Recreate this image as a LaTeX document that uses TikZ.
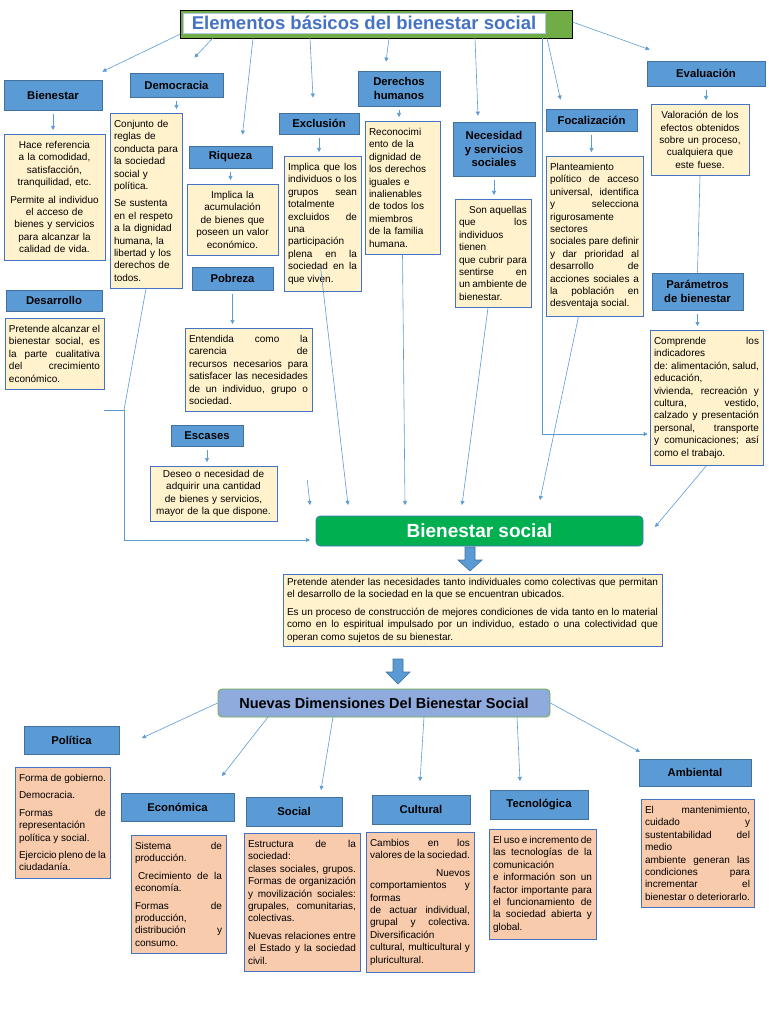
\documentclass[tikz,border=0pt]{standalone}
\usepackage{fontspec}
\setmainfont{Liberation Sans}
\usetikzlibrary{positioning, calc, arrows.meta}

\definecolor{azul}{HTML}{5B9BD5}
\definecolor{azulborde}{HTML}{41719C}
\definecolor{crema}{HTML}{FFF2CC}
\definecolor{cremaborde}{HTML}{4472C4}
\definecolor{salmon}{HTML}{F8CBAD}
\definecolor{verde}{HTML}{00B050}
\definecolor{verdetit}{HTML}{70AD47}
\definecolor{lila}{HTML}{8FAADC}
\definecolor{flecha}{HTML}{5B9BD5}

\begin{document}
\begin{tikzpicture}[x=1pt, y=-1pt,
    cabeza/.style={draw=azulborde, line width=0.8pt, fill=azul, font=\fontsize{11.3}{13.5}\selectfont\bfseries, align=center, inner sep=1pt},
    texto/.style={draw=cremaborde, line width=0.6pt, fill=crema, anchor=north, font=\fontsize{10}{12.4}\selectfont, inner xsep=4pt, inner ysep=7pt,
        execute at begin node={\setlength{\parskip}{5pt}\tolerance=10000\hyphenpenalty=10000\hbadness=10000}},
    dimtexto/.style={texto, fill=salmon},
    enlace/.style={draw=flecha, line width=0.6pt, -{Triangle[width=4pt,length=4pt]}},
    linea/.style={draw=flecha, line width=0.6pt},
    bloque/.style={fill=azul, draw=azulborde, line width=0.6pt}]
    \useasboundingbox (0,0) rectangle (768,1024);

    % Title
    \node (titulo) [draw=black, line width=0.8pt, fill=verdetit, minimum width=392pt, minimum height=28pt] at (376,24) {};
    \node (tit) [fill=white, draw=cremaborde!40, minimum width=362pt, minimum height=20pt, inner sep=0pt, text=cremaborde, font=\fontsize{18.5}{20}\selectfont\bfseries] at (364,23) {Elementos básicos del bienestar social};

    % Heads, upper part
    \node (bien) [cabeza, minimum width=98pt, minimum height=30pt] at (53,95) {Bienestar};
    \node (dem) [cabeza, minimum width=93pt, minimum height=24pt] at (176.5,85) {Democracia};
    \node (riq) [cabeza, minimum width=83pt, minimum height=22pt] at (230.5,157) {Riqueza};
    \node (exc) [cabeza, minimum width=80pt, minimum height=21pt] at (319,123.5) {Exclusión};
    \node (der) [cabeza, minimum width=82pt, minimum height=35pt] at (399,88.5) {Derechos\\humanos};
    \node (nec) [cabeza, minimum width=82pt, minimum height=54pt] at (494,149) {Necesidad\\y servicios\\sociales};
    \node (foc) [cabeza, minimum width=91pt, minimum height=22pt] at (591.5,120) {Focalización};
    \node (eva) [cabeza, minimum width=118pt, minimum height=25pt] at (706,73.5) {Evaluación};
    \node (par) [cabeza, minimum width=91pt, minimum height=37pt] at (697.5,291.5) {Parámetros\\de bienestar};
    \node (desa) [cabeza, minimum width=96pt, minimum height=21pt] at (54,300.5) {Desarrollo};
    \node (pob) [cabeza, minimum width=81pt, minimum height=23pt] at (232.5,278.5) {Pobreza};
    \node (esc) [cabeza, minimum width=72pt, minimum height=21pt] at (207,435.5) {Escases};

    % Texts, upper part
    \node (bientxt) [texto, text width=93pt, align=center] at (54.5,134)
        {Hace referencia a la comodidad, satisfacción, tranquilidad, etc.\par Permite al individuo el acceso de bienes y servicios para alcanzar la calidad de vida.};
    \node (demtxt) [texto, text width=64pt, align=left] at (146,113)
        {Conjunto de reglas de conducta para la sociedad social y política.\par Se sustenta en el respeto a la dignidad humana, la libertad y los derechos de todos.};
    \node (riqtxt) [texto, text width=83pt, align=center] at (232.5,184)
        {Implica la acumulación de bienes que poseen un valor económico.};
    \node (exctxt) [texto, text width=69pt, align=justify] at (322.5,156)
        {Implica que los individuos o los grupos sean totalmente excluidos de una participación plena en la sociedad en la que viven.};
    \node (dertxt) [texto, text width=67pt, align=left] at (402.5,121)
        {Reconocimi ento de la dignidad de los derechos iguales e inalienables de todos los miembros de la familia humana.};
    \node (nectxt) [texto, text width=68pt, align=justify] at (493,199)
        {\hfill Son aquellas que los individuos tienen que cubrir para sentirse en un ambiente de bienestar.};
    \node (foctxt) [texto, text width=89pt, align=justify] at (594.5,156)
        {Planteamiento político de acceso universal, identifica y selecciona rigurosamente sectores sociales pare definir y dar prioridad al desarrollo de acciones sociales a la población en desventaja social.};
    \node (evatxt) [texto, text width=90pt, align=center] at (700,104)
        {Valoración de los efectos obtenidos sobre un proceso, cualquiera que este fuese.};
    \node (partxt) [texto, text width=105pt, align=justify] at (706.5,330)
        {Comprende los indicadores de: alimentación, salud, educación, vivienda, recreación y cultura, vestido, calzado y presentación personal, transporte y comunicaciones; así como el trabajo.};
    \node (desatxt) [texto, text width=91pt, align=justify] at (54.5,318)
        {Pretende alcanzar el bienestar social, es la parte cualitativa del crecimiento económico.};
    \node (pobtxt) [texto, text width=119pt, align=justify] at (248.5,328)
        {Entendida como la carencia de recursos necesarios para satisfacer las necesidades de un individuo, grupo o sociedad.};
    \node (esctxt) [texto, text width=119pt, align=center, inner ysep=4pt] at (213.5,466)
        {Deseo o necesidad de adquirir una cantidad de bienes y servicios, mayor de la que dispone.};

    % Bienestar social
    \node (bs) [fill=verde, draw=cremaborde, line width=0.6pt, rounded corners=4pt, minimum width=327pt, minimum height=30pt, text=white, font=\fontsize{19}{20}\selectfont\bfseries] at (479.5,531) {Bienestar social};
    \node (bstxt) [texto, text width=371pt, align=justify, inner ysep=4pt] at (472.5,574)
        {Pretende atender las necesidades tanto individuales como colectivas que permitan el desarrollo de la sociedad en la que se encuentran ubicados.\par Es un proceso de construcción de mejores condiciones de vida tanto en lo material como en lo espiritual impulsado por un individuo, estado o una colectividad que operan como sujetos de su bienestar.};
    \node (nue) [fill=lila, draw=verdetit, line width=0.8pt, rounded corners=4pt, minimum width=332pt, minimum height=28pt, font=\fontsize{14.5}{16}\selectfont\bfseries] at (384,703) {Nuevas Dimensiones Del Bienestar Social};

    % Block arrows
    \draw[bloque] (465,547) -- (475,547) -- (475,560) -- (482,560) -- (470,571) -- (458,560) -- (465,560) -- cycle;
    \draw[bloque] (393,659) -- (403,659) -- (403,672) -- (410,672) -- (398,684) -- (386,672) -- (393,672) -- cycle;

    % Dimensions
    \node (pol) [cabeza, minimum width=95pt, minimum height=28pt] at (71.5,740) {Política};
    \node (eco) [cabeza, minimum width=113pt, minimum height=28pt] at (177.5,807) {Económica};
    \node (soc) [cabeza, minimum width=96pt, minimum height=29pt] at (294,811.5) {Social};
    \node (cul) [cabeza, minimum width=98pt, minimum height=29pt] at (421,809.5) {Cultural};
    \node (tec) [cabeza, minimum width=98pt, minimum height=29pt] at (539,804.5) {Tecnológica};
    \node (amb) [cabeza, minimum width=112pt, minimum height=27pt] at (695,772.5) {Ambiental};

    \node (poltxt) [dimtexto, text width=87pt, align=justify] at (62.5,767)
        {Forma de gobierno.\par Democracia.\par Formas de representación política y social.\par Ejercicio pleno de la ciudadanía.};
    \node (ecotxt) [dimtexto, text width=87pt, align=justify] at (178.5,835)
        {Sistema de producción.\par \hspace*{3pt}Crecimiento de la economía.\par Formas de producción, distribución y consumo.};
    \node (soctxt) [dimtexto, text width=108pt, align=justify] at (302,833)
        {Estructura de la sociedad: clases sociales, grupos. Formas de organización y movilización sociales: grupales, comunitarias, colectivas.\par Nuevas relaciones entre el Estado y la sociedad civil.};
    \node (cultxt) [dimtexto, text width=100pt, align=justify] at (420,832)
        {Cambios en los valores de la sociedad.\par \hfill Nuevos comportamientos y formas de actuar individual, grupal y colectiva. Diversificación cultural, multicultural y pluricultural.};
    \node (tectxt) [dimtexto, text width=99pt, align=justify] at (542.5,829)
        {El uso e incremento de las tecnologías de la comunicación e información son un factor importante para el funcionamiento de la sociedad abierta y global.};
    \node (ambtxt) [dimtexto, text width=105pt, align=justify] at (697.5,799)
        {El mantenimiento, cuidado y sustentabilidad del medio ambiente generan las condiciones para incrementar el bienestar o deteriorarlo.};

    % Title links
    \draw[enlace] (titulo.south west) ++(0,-4) -- ($(bien.north east)+(0,-8)$);
    \draw[enlace] (213,38) -- ($(dem.north)+(18,-15)$);
    \draw[enlace] (253,38) -- ($(riq.north)+(12,-11)$);
    \draw[enlace] (310,38) -- ($(exc.north)+(-6,-15)$);
    \draw[enlace] (389,38) -- ($(der.north)+(-13,-9)$);
    \draw[enlace] (475,38) -- ($(nec.north)+(-16,-6)$);
    \draw[enlace] (547,38) -- ($(foc.north)+(-31,-9)$);
    \draw[enlace] (titulo.east) ++(0,-2) -- ($(eva.north west)+(3,-11)$);
    \draw[enlace, shorten >=2pt] (542,38) -- (542,434) -- (partxt.west |- 0,434);

    % Head to text links
    \foreach \c/\t in {bien/bientxt, dem/demtxt, riq/riqtxt, exc/exctxt, der/dertxt, nec/nectxt, foc/foctxt, eva/evatxt, par/partxt, pob/pobtxt, esc/esctxt}
        \draw[enlace, shorten <=4pt, shorten >=4pt] (\c.south) -- (\c.south |- \t.north);
    \draw[linea] (evatxt.south) -- (par.north);

    % Links into Bienestar social
    \draw[linea] (demtxt.south) -- (124,410);
    \draw[enlace] (desatxt.east |- 0,410) -- (124,410) -- (124,540) -- (310,540);
    \draw[enlace] ($(esctxt.north east)+(30,14)$) -- (310,505);
    \draw[enlace] ($(exctxt.south)+(-2,-25)$) -- (348,505);
    \draw[enlace] (dertxt.south) -- (405,505);
    \draw[enlace] ($(nectxt.south)+(-5,0)$) -- (462,505);
    \draw[enlace] ($(foctxt.south)+(-16,0)$) -- (540,500);
    \draw[enlace] (partxt.south) -- (655,527);

    % Dimension links
    \draw[enlace] (nue.west) -- (142,738);
    \draw[enlace] (268,717) -- (222,776);
    \draw[enlace] (333,717) -- (321,790);
    \draw[enlace] (424,717) -- (420,781);
    \draw[enlace] (517,717) -- (520,781);
    \draw[enlace] (nue.east) -- (640,752);
\end{tikzpicture}
\end{document}
